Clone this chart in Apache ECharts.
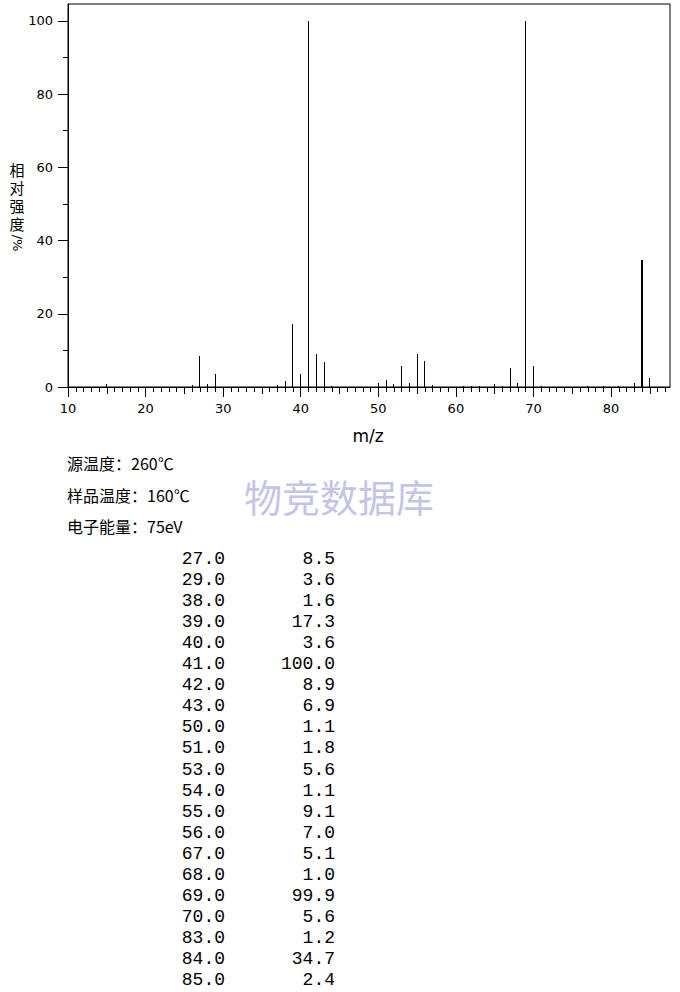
<!DOCTYPE html>
<html>
<head>
<meta charset="utf-8">
<script src="https://cdn.jsdelivr.net/npm/echarts@6/dist/echarts.min.js"></script>
<style>
html,body{margin:0;padding:0;background:#fff;}
#chart{width:680px;height:992px;}
</style>
</head>
<body>
<div id="chart"></div>
<script>
// ---- data ----
const spectrumMz = [15, 26, 27, 28, 29, 37, 38, 39, 40, 41, 42, 43, 44, 50, 51, 52, 53, 54, 55, 56, 57, 61, 62, 63, 65, 66, 67, 68, 69, 70, 71, 77, 79, 81, 83, 84, 85];
const spectrumIntensity = [0.9, 0.6, 8.5, 0.9, 3.6, 0.6, 1.6, 17.3, 3.6, 100.0, 8.9, 6.9, 0.4, 1.1, 1.8, 0.9, 5.6, 1.1, 9.1, 7.0, 0.6, 0.3, 0.3, 0.3, 0.9, 0.3, 5.1, 1.0, 99.9, 5.6, 0.4, 0.3, 0.3, 0.3, 1.2, 34.7, 2.4];
const tableMz = [27.0, 29.0, 38.0, 39.0, 40.0, 41.0, 42.0, 43.0, 50.0, 51.0, 53.0, 54.0, 55.0, 56.0, 67.0, 68.0, 69.0, 70.0, 83.0, 84.0, 85.0];
const tableIntensity = [8.5, 3.6, 1.6, 17.3, 3.6, 100.0, 8.9, 6.9, 1.1, 1.8, 5.6, 1.1, 9.1, 7.0, 5.1, 1.0, 99.9, 5.6, 1.2, 34.7, 2.4];
const xMajorTicks = [10, 20, 30, 40, 50, 60, 70, 80];
const xMidTicks = [15, 25, 35, 45, 55, 65, 75, 85];
const xMinorTicks = [10,11,12,13,14,15,16,17,18,19,20,21,22,23,24,25,26,27,28,29,30,31,32,33,34,35,36,37,38,39,40,41,42,43,44,45,46,47,48,49,50,51,52,53,54,55,56,57,58,59,60,61,62,63,64,65,66,67,68,69,70,71,72,73,74,75,76,77,78,79,80,81,82,83,84,85,86,87];
const yMajorTicks = [0, 20, 40, 60, 80, 100];
const yMinorTicks = [10, 30, 50, 70, 90];
const infoLines = ['源温度：260℃', '样品温度：160℃', '电子能量：75eV'];
const yName = ['相', '对', '强', '度'];
const yNameTail = '/%';
const xName = 'm/z';
const watermark = '物竞数据库';

// ---- layout / style ----
const X_MIN = 10, X_MAX = 87.6, Y_MIN = 0, Y_MAX = 104.6;
const thickLines = {84: 2};
const BLACK = '#000';
const axisFont = 'DejaVu Sans';
const cjkFont = '"Noto Sans CJK SC"';
const stackFont = '"Liberation Sans", "Noto Sans CJK SC"';
const monoFont = '"Liberation Mono"';

const chart = echarts.init(document.getElementById('chart'), null, {renderer: 'svg'});

function xAxisDef(ticks, len, withLine, withLabels) {
  return {
    type: 'value', min: X_MIN, max: X_MAX, position: 'bottom', gridIndex: 0,
    axisLine: {show: withLine, onZero: false, lineStyle: {color: BLACK, width: 1}},
    splitLine: {show: false},
    axisTick: {show: true, customValues: ticks, length: len, inside: false, lineStyle: {color: BLACK, width: 1}},
    axisLabel: withLabels ? {show: true, customValues: ticks, margin: 15, fontSize: 13, fontFamily: axisFont, color: BLACK} : {show: false}
  };
}
function yAxisDef(ticks, len, withLine, withLabels) {
  return {
    type: 'value', min: Y_MIN, max: Y_MAX, position: 'left', gridIndex: 0,
    axisLine: {show: withLine, onZero: false, lineStyle: {color: BLACK, width: 1}},
    splitLine: {show: false},
    axisTick: {show: true, customValues: ticks, length: len, inside: false, lineStyle: {color: BLACK, width: 1}},
    axisLabel: withLabels ? {show: true, customValues: ticks, margin: 15, fontSize: 13, fontFamily: axisFont, color: BLACK} : {show: false}
  };
}

function textEl(x, y, text, size, family, fill, align, extra) {
  return Object.assign({
    type: 'text', x: x, y: y,
    style: {text: text, fontSize: size, fontFamily: family, fill: fill,
            align: align, textAlign: align, verticalAlign: 'middle', textVerticalAlign: 'middle'}
  }, extra || {});
}

const graphics = [];
// y axis name (vertical, one character per element)
yName.forEach((ch, i) => {
  graphics.push(textEl(17, 170 + i * 18, ch, 15, stackFont, BLACK, 'center'));
});
graphics.push(textEl(17, 243, yNameTail, 13, axisFont, BLACK, 'center', {rotation: -Math.PI / 2}));
// x axis name
graphics.push(textEl(368, 436, xName, 17, axisFont, BLACK, 'center'));
// info lines
infoLines.forEach((t, i) => {
  graphics.push(textEl(67, 463 + i * 31.5, t, 16, cjkFont, BLACK, 'left'));
});
// watermark
graphics.push(textEl(339, 495, watermark, 38, cjkFont, '#c4c4e8', 'center'));
// peak table
tableMz.forEach((m, i) => {
  const y = 559 + i * 21.05;
  graphics.push(textEl(225, y, m.toFixed(1), 18, monoFont, BLACK, 'right'));
  graphics.push(textEl(335, y, tableIntensity[i].toFixed(1), 18, monoFont, BLACK, 'right'));
});

const option = {
  animation: false,
  backgroundColor: '#fff',
  grid: {left: 68, right: 10, top: 4, bottom: 605, show: true, borderColor: BLACK, borderWidth: 1, containLabel: false},
  xAxis: [
    xAxisDef(xMinorTicks, 5, true, false),
    xAxisDef(xMidTicks, 7, false, false),
    xAxisDef(xMajorTicks, 10, false, true)
  ],
  yAxis: [
    yAxisDef(yMajorTicks, 10, true, true),
    yAxisDef(yMinorTicks, 5, false, false)
  ],
  series: [{
    type: 'custom',
    xAxisIndex: 0, yAxisIndex: 0,
    data: spectrumMz.map((m, i) => [m, spectrumIntensity[i]]),
    renderItem: function (params, api) {
      const m = api.value(0);
      const p0 = api.coord([m, 0]);
      const p1 = api.coord([m, api.value(1)]);
      const w = thickLines[m] || 1;
      const x = Math.floor(p0[0]);
      return {
        type: 'rect',
        shape: {x: x - (w > 1 ? 1 : 0), y: Math.round(p1[1]), width: w, height: Math.round(p0[1]) - Math.round(p1[1])},
        style: {fill: BLACK}
      };
    },
    clip: false
  }],
  graphic: graphics
};
chart.setOption(option);
</script>
</body>
</html>
